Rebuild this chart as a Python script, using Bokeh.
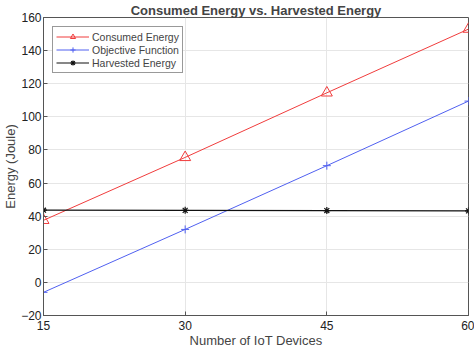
from bokeh.plotting import figure
from bokeh.models import Range1d, FixedTicker, Legend, LegendItem
from bokeh.embed import file_html
from bokeh.resources import INLINE

devices = [15, 30, 45, 60]
consumed = [37.5, 75.5, 114.5, 153.0]
objective = [-6.0, 32.0, 70.5, 109.5]
harvested = [43.6, 43.5, 43.4, 43.2]
x_ticks = [15, 30, 45, 60]
y_ticks = [-20, 0, 20, 40, 60, 80, 100, 120, 140, 160]

FONT = "Liberation Sans"
RED = "#f03c3c"
BLUE = "#5060f0"
BLACK = "#111111"

p = figure(width=474, height=350, output_backend="svg", toolbar_location=None,
           x_range=Range1d(15, 60), y_range=Range1d(-20, 160),
           min_border_left=36, min_border_right=6, min_border_top=16, min_border_bottom=34,
           title="Consumed Energy vs. Harvested Energy")

p.title.text_font = FONT
p.title.text_font_size = "13px"
p.title.text_font_style = "bold"
p.title.align = "center"
p.title.standoff = 0
p.title.offset = 0

for ax in (p.xaxis, p.yaxis):
    ax.axis_label_text_font = FONT
    ax.axis_label_text_font_size = "13px"
    ax.axis_label_text_font_style = "normal"
    ax.major_label_text_font = FONT
    ax.major_label_text_font_size = "12px"
    ax.major_label_text_color = "#222222"
    ax.axis_line_color = "#555555"
    ax.major_tick_line_color = "#555555"
    ax.major_tick_in = 4
    ax.major_tick_out = 0
    ax.minor_tick_line_color = None
    ax.axis_label_standoff = 0

p.xaxis.axis_label = "Number of IoT Devices"
p.yaxis.axis_label = "Energy (Joule)"
p.xaxis.ticker = FixedTicker(ticks=x_ticks)
p.yaxis.ticker = FixedTicker(ticks=y_ticks)
p.xaxis.major_label_standoff = 5
p.yaxis.major_label_standoff = 2

p.xgrid.ticker = FixedTicker(ticks=x_ticks)
p.ygrid.ticker = FixedTicker(ticks=y_ticks)
p.grid.grid_line_color = "#e6e6e6"
p.outline_line_color = "#555555"
p.outline_line_alpha = 1.0

l1 = p.line(devices, consumed, line_color=RED, line_width=1)
m1 = p.scatter(devices, consumed, marker="triangle", size=11, fill_color=None,
               line_color=RED, line_width=1)
l2 = p.line(devices, objective, line_color=BLUE, line_width=1)
m2 = p.scatter(devices, objective, marker="cross", size=8, line_color=BLUE, line_width=1)
l3 = p.line(devices, harvested, line_color=BLACK, line_width=1.2)
m3 = p.scatter(devices, harvested, marker="asterisk", size=7, line_color=BLACK, line_width=1.2)

legend = Legend(items=[
    LegendItem(label="Consumed Energy", renderers=[l1, m1]),
    LegendItem(label="Objective Function", renderers=[l2, m2]),
    LegendItem(label="Harvested Energy", renderers=[l3, m3]),
], location="top_left")
legend.margin = 9
legend.padding = 3
legend.spacing = 0
legend.glyph_width = 33
legend.glyph_height = 13
legend.label_height = 13
legend.label_standoff = 3
legend.label_text_font = FONT
legend.label_text_font_size = "10.5px"
legend.border_line_color = "#333333"
legend.border_line_width = 1
legend.background_fill_color = "white"
legend.background_fill_alpha = 1.0
p.add_layout(legend, "center")

open("out.html", "w").write(file_html(p, INLINE))
